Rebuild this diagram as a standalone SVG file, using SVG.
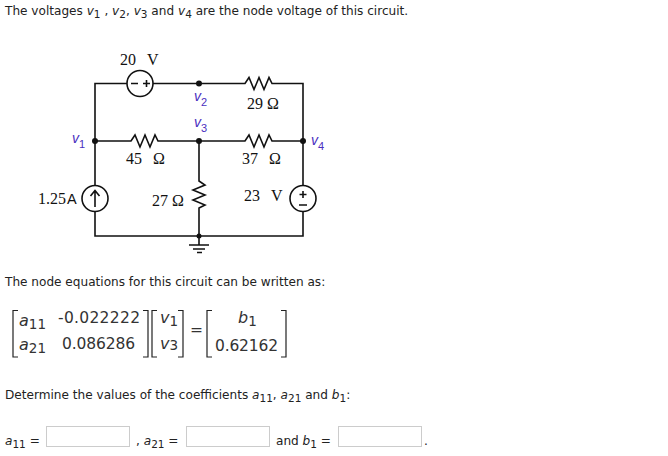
<svg xmlns="http://www.w3.org/2000/svg" width="668" height="456" viewBox="0 0 668 456">
<style>
.w{fill:none;stroke:#111;stroke-width:1.6}
.o{fill:#fff;stroke:#111;stroke-width:1.6}
.d{fill:#111}
.t{font-family:"DejaVu Sans",Verdana,sans-serif;font-size:12.1px;fill:#222}
.i{font-style:italic}
.s{font-size:10.5px}
.c{font-family:"Liberation Serif","Times New Roman",serif;font-size:16px;fill:#111}
.v{font-family:"Liberation Sans",Arial,sans-serif;font-size:14px;font-style:italic;fill:#4a2fc0}
.vs{font-size:11px;font-style:normal}
.m{font-family:"DejaVu Sans",Verdana,sans-serif;font-size:15.5px;fill:#333}
.mi{font-size:16px;font-style:italic}
.ms{font-size:13.5px}
.b{fill:none;stroke:#222;stroke-width:1.2}
.box{fill:#fff;stroke:#ccc;stroke-width:1}
</style>
<rect width="668" height="456" fill="#fff"/>
<text class="t" x="5" y="15">The voltages <tspan class="i">v</tspan><tspan class="s" dy="3">1</tspan><tspan dy="-3"> , </tspan><tspan class="i">v</tspan><tspan class="s" dy="3">2</tspan><tspan dy="-3">, </tspan><tspan class="i">v</tspan><tspan class="s" dy="3">3</tspan><tspan dy="-3"> and </tspan><tspan class="i">v</tspan><tspan class="s" dy="3">4</tspan><tspan dy="-3"> are the node voltage of this circuit.</tspan></text>
<g id="connectors">
<path class="w" d="M127 83.500H95V185.500M95 212V236H303V212M153 83.500H242M273 83.500H303V185M95 141H128M159 141H242M273 141H303M199 141V179M199 211V245"/>
<path class="w" d="M242 83.500h3l4-6 5 12 5-12 5 12 5-12 3 6h1M128 141h3l4-6 5 12 5-12 5 12 5-12 3 6h1M242 141h3l4-6 5 12 5-12 5 12 5-12 3 6h1M199 179v2l6 4-12 5 12 5-12 5 12 5-6 3v3"/>
</g>
<g id="node-v1"><circle class="d" cx="95" cy="141" r="3"/><text class="v" x="72" y="143">v<tspan class="vs" dy="5">1</tspan></text></g>
<g id="node-v2"><circle class="d" cx="199" cy="83.500" r="3"/><text class="v" x="194" y="101">v<tspan class="vs" dy="5">2</tspan></text></g>
<g id="node-v3"><circle class="d" cx="199" cy="141" r="3"/><text class="v" x="194" y="127">v<tspan class="vs" dy="5">3</tspan></text></g>
<g id="node-v4"><circle class="d" cx="303" cy="141" r="3"/><text class="v" x="311" y="145">v<tspan class="vs" dy="5">4</tspan></text></g>
<g id="node-gnd"><circle class="d" cx="199" cy="236" r="2.500"/><path class="w" d="M189 245H209M193 249H205M197 252.500H202"/></g>
<g id="source-20v"><circle class="o" cx="140" cy="83.500" r="13"/><path class="w" d="M131 83.500h7M143 83.500h7M146.500 80v7"/><text class="c" x="120" y="65">20</text><text class="c" x="147" y="65">V</text></g>
<g id="r-29"><text class="c" x="247" y="109">29 Ω</text></g>
<g id="r-45"><text class="c" x="126" y="164">45</text><text class="c" x="153" y="164">Ω</text></g>
<g id="r-37"><text class="c" x="242" y="164">37</text><text class="c" x="269" y="164">Ω</text></g>
<g id="r-27"><text class="c" x="152" y="206">27 Ω</text></g>
<g id="source-125a"><circle class="o" cx="95" cy="198.500" r="13"/><path class="w" d="M95 207V191M90.500 196L95 190.500L99.500 196"/><text class="c" x="38" y="204">1.25<tspan dx="1" font-family="Liberation Sans, sans-serif" style="font-size:14.500px">A</tspan></text></g>
<g id="source-23v"><circle class="o" cx="303" cy="198.500" r="13"/><path class="w" d="M303 191v7M299.500 194.500h7M299 205h8"/><text class="c" x="244" y="201">23</text><text class="c" x="271" y="201">V</text></g>
<text class="t" x="5" y="286">The node equations for this circuit can be written as:</text>
<g id="equation">
<path class="b" d="M18 310.500H13V357H18M143 310.500H148V357H143M157 310.500H152V357H157M178 310.500H183V357H178M212 310.500H207V357H212M281 310.500H286V357H281"/>
<text class="m" x="19" y="326"><tspan class="mi">a</tspan><tspan class="ms" dy="3">11</tspan></text>
<text class="m" x="19" y="350"><tspan class="mi">a</tspan><tspan class="ms" dy="3">21</tspan></text>
<text class="m" x="58" y="323" textLength="82">-0.022222</text>
<text class="m" x="62" y="349" textLength="73">0.086286</text>
<text class="m" x="160" y="323"><tspan class="mi">v</tspan><tspan class="ms" dy="3">1</tspan></text>
<text class="m" x="160" y="349"><tspan class="mi">v</tspan><tspan class="ms" dy="1">3</tspan></text>
<text class="m" x="190" y="335">=</text>
<text class="m" x="238" y="323"><tspan class="mi">b</tspan><tspan class="ms" dy="3">1</tspan></text>
<text class="m" x="215" y="351" textLength="63">0.62162</text>
</g>
<text class="t" x="5" y="399">Determine the values of the coefficients <tspan class="i">a</tspan><tspan class="s" dy="3">11</tspan><tspan dy="-3">, </tspan><tspan class="i">a</tspan><tspan class="s" dy="3">21</tspan><tspan dy="-3"> and </tspan><tspan class="i">b</tspan><tspan class="s" dy="3">1</tspan><tspan dy="-3">:</tspan></text>
<text class="t" x="5" y="445"><tspan class="i">a</tspan><tspan class="s" dy="3">11</tspan><tspan dy="-3"> =</tspan></text>
<rect class="box" x="46.500" y="426.500" width="83" height="20"/>
<text class="t" x="136" y="445">, <tspan class="i">a</tspan><tspan class="s" dy="3">21</tspan><tspan dy="-3"> =</tspan></text>
<rect class="box" x="186.500" y="426.500" width="83" height="20"/>
<text class="t" x="276" y="445">and <tspan class="i">b</tspan><tspan class="s" dy="3">1</tspan><tspan dy="-3"> =</tspan></text>
<rect class="box" x="338.500" y="426.500" width="83" height="20"/>
<text class="t" x="424" y="445">.</text>
</svg>
